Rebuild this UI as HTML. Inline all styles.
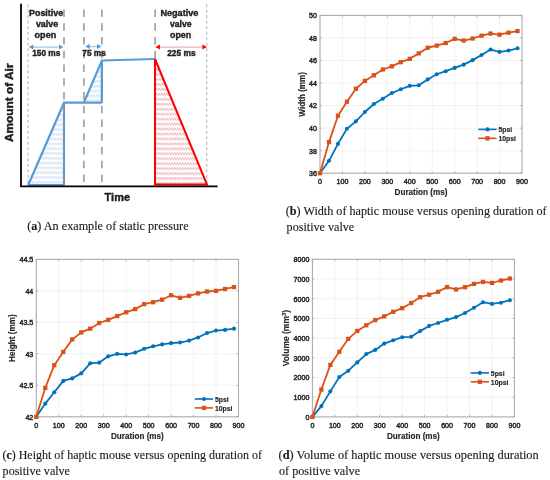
<!DOCTYPE html>
<html><head><meta charset="utf-8"><title>Figure</title><style>
html,body{margin:0;padding:0;background:#fff;width:550px;height:480px;overflow:hidden}
svg{display:block;will-change:transform;filter:blur(0.35px)}
text{font-family:"Liberation Sans",sans-serif}
.tick text{font-size:8.1px;fill:#262626;stroke:#262626;stroke-width:0.5px}
.albl{font-size:8.5px;font-weight:bold;fill:#262626;stroke:#262626;stroke-width:0.15px}
.leg{font-size:6.9px;font-weight:bold;fill:#262626;stroke:#262626;stroke-width:0.15px}
.dia, .dia text{font-weight:bold;fill:#1e1e1e;stroke:#1e1e1e;stroke-width:0.4px}
.cap text{font-family:"Liberation Serif",serif;font-size:11.5px;fill:#1a1a1a;stroke:#1a1a1a;stroke-width:0.12px}
</style></head><body>
<svg width="550" height="480" viewBox="0 0 550 480">
<defs>
<pattern id="hb" width="2.6" height="4.8" patternUnits="userSpaceOnUse" y="2.3"><path d="M0 2.4L0.65 1.4L1.3 2.4L1.95 3.4L2.6 2.4" fill="none" stroke="#9dc1e5" stroke-width="0.75"/></pattern>
<pattern id="hr" width="2.6" height="4.95" patternUnits="userSpaceOnUse" y="2.9"><path d="M0 2.4L0.65 1.4L1.3 2.4L1.95 3.4L2.6 2.4" fill="none" stroke="#dc6a6a" stroke-width="0.75"/></pattern>
</defs>
<path d="M28 4.2V185M206.7 4.2V185" stroke="#c2c2c2" stroke-width="1.3" stroke-dasharray="3 2.5"/>
<path d="M28.1 185.2L64 102.7V185.2Z" fill="url(#hb)"/>
<path d="M83.8 102.7L101.9 60.5V102.7Z" fill="url(#hb)"/>
<path d="M155 59L207 184.6H155Z" fill="url(#hr)"/>
<path d="M28.1 185.2L64 102.7H101.9M83.8 102.7L101.9 60.5L155 59M28.1 185.2H64M64 102.7V185.2M101.9 60.5V102.7" fill="none" stroke="#5b9bd5" stroke-width="2.2" stroke-linejoin="miter"/>
<path d="M64 9.4V185M83.9 9.4V185M101.9 9.4V185M155.1 9.4V60" stroke="#959595" stroke-width="1.5" stroke-dasharray="7.5 6.25"/>
<path d="M101.9 60.5V102.7" stroke="#5b9bd5" stroke-width="2"/>
<path d="M155 59L207 184.6H155Z" fill="none" stroke="#ff0000" stroke-width="2" stroke-linejoin="miter"/>
<path d="M21 3.8V187.1M20.1 186.3H217.6" stroke="#000" stroke-width="1.8" fill="none"/>
<path d="M31.8 47.1H60.6" stroke="#a9cbe9" stroke-width="1.4"/><path d="M28.8 47.1l4.6 -2.5v5Z M63.6 47.1l-4.6 -2.5v5Z" fill="#5b9bd5"/>
<path d="M88.2 46.6H98.6" stroke="#a9cbe9" stroke-width="1.4"/><path d="M85.2 46.6l4.6 -2.5v5Z M101.6 46.6l-4.6 -2.5v5Z" fill="#5b9bd5"/>
<path d="M158.3 47.1H204" stroke="#f2b0b0" stroke-width="1.4"/><path d="M155.3 47.1l4.6 -2.5v5Z M207 47.1l-4.6 -2.5v5Z" fill="#ff0000"/>
<g class="dia"><text x="29" y="16.2" textLength="34.2" lengthAdjust="spacingAndGlyphs" style="font-size:9px">Positive</text><text x="35.9" y="27.3" textLength="22.3" lengthAdjust="spacingAndGlyphs" style="font-size:9px">valve</text><text x="34.6" y="37.8" textLength="21.6" lengthAdjust="spacingAndGlyphs" style="font-size:9px">open</text><text x="32.2" y="55.5" textLength="28.2" lengthAdjust="spacingAndGlyphs" style="font-size:8.6px">150 ms</text><text x="82.3" y="55.8" textLength="23.6" lengthAdjust="spacingAndGlyphs" style="font-size:8.6px">75 ms</text><text x="160.5" y="16" textLength="37.8" lengthAdjust="spacingAndGlyphs" style="font-size:9px">Negative</text><text x="170" y="27" textLength="21.5" lengthAdjust="spacingAndGlyphs" style="font-size:9px">valve</text><text x="170" y="37.8" textLength="21.2" lengthAdjust="spacingAndGlyphs" style="font-size:9px">open</text><text x="167.2" y="55.5" textLength="28.4" lengthAdjust="spacingAndGlyphs" style="font-size:8.6px">225 ms</text><text x="104.6" y="200.8" textLength="25.4" lengthAdjust="spacingAndGlyphs" style="font-size:11.2px">Time</text></g>
<text class="dia" transform="translate(13.2 142) rotate(-90)" textLength="78.5" lengthAdjust="spacingAndGlyphs" style="font-size:10.6px">Amount of Air</text>
<path d="M342.44 15.4V173.2M364.89 15.4V173.2M387.33 15.4V173.2M409.78 15.4V173.2M432.22 15.4V173.2M454.67 15.4V173.2M477.11 15.4V173.2M499.56 15.4V173.2M320 150.66H522M320 128.11H522M320 105.57H522M320 83.03H522M320 60.49H522M320 37.94H522" stroke="#efefef" stroke-width="0.8" fill="none"/>
<rect x="320" y="15.4" width="202" height="157.8" fill="none" stroke="#ababab" stroke-width="1.1"/>
<path d="M320 173.2v-2M320 15.4v2M342.44 173.2v-2M342.44 15.4v2M364.89 173.2v-2M364.89 15.4v2M387.33 173.2v-2M387.33 15.4v2M409.78 173.2v-2M409.78 15.4v2M432.22 173.2v-2M432.22 15.4v2M454.67 173.2v-2M454.67 15.4v2M477.11 173.2v-2M477.11 15.4v2M499.56 173.2v-2M499.56 15.4v2M522 173.2v-2M522 15.4v2M320 173.2h2M522 173.2h-2M320 150.66h2M522 150.66h-2M320 128.11h2M522 128.11h-2M320 105.57h2M522 105.57h-2M320 83.03h2M522 83.03h-2M320 60.49h2M522 60.49h-2M320 37.94h2M522 37.94h-2M320 15.4h2M522 15.4h-2" stroke="#ababab" stroke-width="0.8" fill="none"/>
<g class="tick"><text transform="translate(320 184.4) scale(0.88 1)" text-anchor="middle">0</text><text transform="translate(342.44 184.4) scale(0.88 1)" text-anchor="middle">100</text><text transform="translate(364.89 184.4) scale(0.88 1)" text-anchor="middle">200</text><text transform="translate(387.33 184.4) scale(0.88 1)" text-anchor="middle">300</text><text transform="translate(409.78 184.4) scale(0.88 1)" text-anchor="middle">400</text><text transform="translate(432.22 184.4) scale(0.88 1)" text-anchor="middle">500</text><text transform="translate(454.67 184.4) scale(0.88 1)" text-anchor="middle">600</text><text transform="translate(477.11 184.4) scale(0.88 1)" text-anchor="middle">700</text><text transform="translate(499.56 184.4) scale(0.88 1)" text-anchor="middle">800</text><text transform="translate(522 184.4) scale(0.88 1)" text-anchor="middle">900</text><text transform="translate(317 176.1) scale(0.88 1)" text-anchor="end">36</text><text transform="translate(317 153.56) scale(0.88 1)" text-anchor="end">38</text><text transform="translate(317 131.01) scale(0.88 1)" text-anchor="end">40</text><text transform="translate(317 108.47) scale(0.88 1)" text-anchor="end">42</text><text transform="translate(317 85.93) scale(0.88 1)" text-anchor="end">44</text><text transform="translate(317 63.39) scale(0.88 1)" text-anchor="end">46</text><text transform="translate(317 40.84) scale(0.88 1)" text-anchor="end">48</text><text transform="translate(317 18.3) scale(0.88 1)" text-anchor="end">50</text></g>
<text class="albl" x="394.6" y="195" textLength="52.8" lengthAdjust="spacingAndGlyphs">Duration (ms)</text>
<text class="albl" transform="translate(304.6 116.7) rotate(-90)" textLength="44.8" lengthAdjust="spacingAndGlyphs">Width (mm)</text>
<polyline points="320,173.2 328.98,160.8 337.96,143.89 346.93,128.68 355.91,121.35 364.89,112 373.87,103.99 382.84,98.81 391.82,93.06 400.8,89.23 409.78,85.85 418.76,85.28 427.73,79.42 436.71,74.24 445.69,71.19 454.67,67.92 463.64,64.66 472.62,60.15 481.6,54.96 490.58,49.55 499.56,51.92 508.53,50.57 517.51,48.31" fill="none" stroke="#0072BD" stroke-width="1.8" stroke-linejoin="round"/>
<g fill="#0072BD"><circle cx="320" cy="173.2" r="2.05"/><circle cx="328.98" cy="160.8" r="2.05"/><circle cx="337.96" cy="143.89" r="2.05"/><circle cx="346.93" cy="128.68" r="2.05"/><circle cx="355.91" cy="121.35" r="2.05"/><circle cx="364.89" cy="112" r="2.05"/><circle cx="373.87" cy="103.99" r="2.05"/><circle cx="382.84" cy="98.81" r="2.05"/><circle cx="391.82" cy="93.06" r="2.05"/><circle cx="400.8" cy="89.23" r="2.05"/><circle cx="409.78" cy="85.85" r="2.05"/><circle cx="418.76" cy="85.28" r="2.05"/><circle cx="427.73" cy="79.42" r="2.05"/><circle cx="436.71" cy="74.24" r="2.05"/><circle cx="445.69" cy="71.19" r="2.05"/><circle cx="454.67" cy="67.92" r="2.05"/><circle cx="463.64" cy="64.66" r="2.05"/><circle cx="472.62" cy="60.15" r="2.05"/><circle cx="481.6" cy="54.96" r="2.05"/><circle cx="490.58" cy="49.55" r="2.05"/><circle cx="499.56" cy="51.92" r="2.05"/><circle cx="508.53" cy="50.57" r="2.05"/><circle cx="517.51" cy="48.31" r="2.05"/></g>
<polyline points="320,173.2 328.98,142.09 337.96,115.72 346.93,101.74 355.91,88.78 364.89,80.89 373.87,75.25 382.84,69.5 391.82,66.35 400.8,62.18 409.78,58.8 418.76,53.38 427.73,47.75 436.71,45.61 445.69,43.02 454.67,38.84 463.64,40.54 472.62,38.51 481.6,35.69 490.58,33.55 499.56,34.67 508.53,32.65 517.51,31.07" fill="none" stroke="#D95319" stroke-width="1.8" stroke-linejoin="round"/>
<g fill="#D95319"><rect x="317.85" y="171.05" width="4.3" height="4.3"/><rect x="326.83" y="139.94" width="4.3" height="4.3"/><rect x="335.81" y="113.57" width="4.3" height="4.3"/><rect x="344.78" y="99.59" width="4.3" height="4.3"/><rect x="353.76" y="86.63" width="4.3" height="4.3"/><rect x="362.74" y="78.74" width="4.3" height="4.3"/><rect x="371.72" y="73.1" width="4.3" height="4.3"/><rect x="380.69" y="67.35" width="4.3" height="4.3"/><rect x="389.67" y="64.2" width="4.3" height="4.3"/><rect x="398.65" y="60.03" width="4.3" height="4.3"/><rect x="407.63" y="56.65" width="4.3" height="4.3"/><rect x="416.61" y="51.23" width="4.3" height="4.3"/><rect x="425.58" y="45.6" width="4.3" height="4.3"/><rect x="434.56" y="43.46" width="4.3" height="4.3"/><rect x="443.54" y="40.87" width="4.3" height="4.3"/><rect x="452.52" y="36.69" width="4.3" height="4.3"/><rect x="461.49" y="38.39" width="4.3" height="4.3"/><rect x="470.47" y="36.36" width="4.3" height="4.3"/><rect x="479.45" y="33.54" width="4.3" height="4.3"/><rect x="488.43" y="31.4" width="4.3" height="4.3"/><rect x="497.41" y="32.52" width="4.3" height="4.3"/><rect x="506.38" y="30.5" width="4.3" height="4.3"/><rect x="515.36" y="28.92" width="4.3" height="4.3"/></g>
<path d="M478.3 129.4H496.6" stroke="#0072BD" stroke-width="1.6"/>
<circle cx="487.45" cy="129.4" r="2.05" fill="#0072BD"/>
<path d="M478.3 138.3H496.6" stroke="#D95319" stroke-width="1.6"/>
<rect x="485.3" y="136.15" width="4.3" height="4.3" fill="#D95319"/>
<text class="leg" x="498.4" y="132.2">5psi</text>
<text class="leg" x="498.4" y="141.1">10psi</text>
<path d="M58.77 259.4V416.8M81.23 259.4V416.8M103.7 259.4V416.8M126.17 259.4V416.8M148.63 259.4V416.8M171.1 259.4V416.8M193.57 259.4V416.8M216.03 259.4V416.8M36.3 385.32H238.5M36.3 353.84H238.5M36.3 322.36H238.5M36.3 290.88H238.5" stroke="#efefef" stroke-width="0.8" fill="none"/>
<rect x="36.3" y="259.4" width="202.2" height="157.4" fill="none" stroke="#ababab" stroke-width="1.1"/>
<path d="M36.3 416.8v-2M36.3 259.4v2M58.77 416.8v-2M58.77 259.4v2M81.23 416.8v-2M81.23 259.4v2M103.7 416.8v-2M103.7 259.4v2M126.17 416.8v-2M126.17 259.4v2M148.63 416.8v-2M148.63 259.4v2M171.1 416.8v-2M171.1 259.4v2M193.57 416.8v-2M193.57 259.4v2M216.03 416.8v-2M216.03 259.4v2M238.5 416.8v-2M238.5 259.4v2M36.3 416.8h2M238.5 416.8h-2M36.3 385.32h2M238.5 385.32h-2M36.3 353.84h2M238.5 353.84h-2M36.3 322.36h2M238.5 322.36h-2M36.3 290.88h2M238.5 290.88h-2M36.3 259.4h2M238.5 259.4h-2" stroke="#ababab" stroke-width="0.8" fill="none"/>
<g class="tick"><text transform="translate(36.3 428) scale(0.88 1)" text-anchor="middle">0</text><text transform="translate(58.77 428) scale(0.88 1)" text-anchor="middle">100</text><text transform="translate(81.23 428) scale(0.88 1)" text-anchor="middle">200</text><text transform="translate(103.7 428) scale(0.88 1)" text-anchor="middle">300</text><text transform="translate(126.17 428) scale(0.88 1)" text-anchor="middle">400</text><text transform="translate(148.63 428) scale(0.88 1)" text-anchor="middle">500</text><text transform="translate(171.1 428) scale(0.88 1)" text-anchor="middle">600</text><text transform="translate(193.57 428) scale(0.88 1)" text-anchor="middle">700</text><text transform="translate(216.03 428) scale(0.88 1)" text-anchor="middle">800</text><text transform="translate(238.5 428) scale(0.88 1)" text-anchor="middle">900</text><text transform="translate(33.3 419.7) scale(0.88 1)" text-anchor="end">42</text><text transform="translate(33.3 388.22) scale(0.88 1)" text-anchor="end">42.5</text><text transform="translate(33.3 356.74) scale(0.88 1)" text-anchor="end">43</text><text transform="translate(33.3 325.26) scale(0.88 1)" text-anchor="end">43.5</text><text transform="translate(33.3 293.78) scale(0.88 1)" text-anchor="end">44</text><text transform="translate(33.3 262.3) scale(0.88 1)" text-anchor="end">44.5</text></g>
<text class="albl" x="111" y="438.6" textLength="52.8" lengthAdjust="spacingAndGlyphs">Duration (ms)</text>
<text class="albl" transform="translate(15.4 362) rotate(-90)" textLength="47.8" lengthAdjust="spacingAndGlyphs">Height (mm)</text>
<polyline points="36.3,416.8 45.29,403.58 54.27,392.25 63.26,380.91 72.25,378.39 81.23,373.36 90.22,363.28 99.21,362.65 108.19,356.36 117.18,353.84 126.17,354.47 135.15,352.58 144.14,348.8 153.13,346.28 162.11,344.4 171.1,343.14 180.09,342.51 189.07,340.62 198.06,337.47 207.05,333.06 216.03,330.54 225.02,329.92 234.01,328.66" fill="none" stroke="#0072BD" stroke-width="1.8" stroke-linejoin="round"/>
<g fill="#0072BD"><circle cx="36.3" cy="416.8" r="2.05"/><circle cx="45.29" cy="403.58" r="2.05"/><circle cx="54.27" cy="392.25" r="2.05"/><circle cx="63.26" cy="380.91" r="2.05"/><circle cx="72.25" cy="378.39" r="2.05"/><circle cx="81.23" cy="373.36" r="2.05"/><circle cx="90.22" cy="363.28" r="2.05"/><circle cx="99.21" cy="362.65" r="2.05"/><circle cx="108.19" cy="356.36" r="2.05"/><circle cx="117.18" cy="353.84" r="2.05"/><circle cx="126.17" cy="354.47" r="2.05"/><circle cx="135.15" cy="352.58" r="2.05"/><circle cx="144.14" cy="348.8" r="2.05"/><circle cx="153.13" cy="346.28" r="2.05"/><circle cx="162.11" cy="344.4" r="2.05"/><circle cx="171.1" cy="343.14" r="2.05"/><circle cx="180.09" cy="342.51" r="2.05"/><circle cx="189.07" cy="340.62" r="2.05"/><circle cx="198.06" cy="337.47" r="2.05"/><circle cx="207.05" cy="333.06" r="2.05"/><circle cx="216.03" cy="330.54" r="2.05"/><circle cx="225.02" cy="329.92" r="2.05"/><circle cx="234.01" cy="328.66" r="2.05"/></g>
<polyline points="36.3,416.8 45.29,387.84 54.27,365.17 63.26,351.95 72.25,339.36 81.23,332.43 90.22,328.66 99.21,322.99 108.19,319.84 117.18,316.06 126.17,312.29 135.15,309.14 144.14,304.1 153.13,302.21 162.11,299.69 171.1,295.29 180.09,297.81 189.07,295.92 198.06,293.4 207.05,291.51 216.03,290.88 225.02,288.99 234.01,287.1" fill="none" stroke="#D95319" stroke-width="1.8" stroke-linejoin="round"/>
<g fill="#D95319"><rect x="34.15" y="414.65" width="4.3" height="4.3"/><rect x="43.14" y="385.69" width="4.3" height="4.3"/><rect x="52.12" y="363.02" width="4.3" height="4.3"/><rect x="61.11" y="349.8" width="4.3" height="4.3"/><rect x="70.1" y="337.21" width="4.3" height="4.3"/><rect x="79.08" y="330.28" width="4.3" height="4.3"/><rect x="88.07" y="326.51" width="4.3" height="4.3"/><rect x="97.06" y="320.84" width="4.3" height="4.3"/><rect x="106.04" y="317.69" width="4.3" height="4.3"/><rect x="115.03" y="313.91" width="4.3" height="4.3"/><rect x="124.02" y="310.14" width="4.3" height="4.3"/><rect x="133" y="306.99" width="4.3" height="4.3"/><rect x="141.99" y="301.95" width="4.3" height="4.3"/><rect x="150.98" y="300.06" width="4.3" height="4.3"/><rect x="159.96" y="297.54" width="4.3" height="4.3"/><rect x="168.95" y="293.14" width="4.3" height="4.3"/><rect x="177.94" y="295.66" width="4.3" height="4.3"/><rect x="186.92" y="293.77" width="4.3" height="4.3"/><rect x="195.91" y="291.25" width="4.3" height="4.3"/><rect x="204.9" y="289.36" width="4.3" height="4.3"/><rect x="213.88" y="288.73" width="4.3" height="4.3"/><rect x="222.87" y="286.84" width="4.3" height="4.3"/><rect x="231.86" y="284.95" width="4.3" height="4.3"/></g>
<path d="M194.8 399H213.1" stroke="#0072BD" stroke-width="1.6"/>
<circle cx="203.95" cy="399" r="2.05" fill="#0072BD"/>
<path d="M194.8 407.9H213.1" stroke="#D95319" stroke-width="1.6"/>
<rect x="201.8" y="405.75" width="4.3" height="4.3" fill="#D95319"/>
<text class="leg" x="214.9" y="401.8">5psi</text>
<text class="leg" x="214.9" y="410.7">10psi</text>
<path d="M334.84 259.3V416.9M357.29 259.3V416.9M379.73 259.3V416.9M402.18 259.3V416.9M424.62 259.3V416.9M447.07 259.3V416.9M469.51 259.3V416.9M491.96 259.3V416.9M312.4 397.2H514.4M312.4 377.5H514.4M312.4 357.8H514.4M312.4 338.1H514.4M312.4 318.4H514.4M312.4 298.7H514.4M312.4 279H514.4" stroke="#efefef" stroke-width="0.8" fill="none"/>
<rect x="312.4" y="259.3" width="202" height="157.6" fill="none" stroke="#ababab" stroke-width="1.1"/>
<path d="M312.4 416.9v-2M312.4 259.3v2M334.84 416.9v-2M334.84 259.3v2M357.29 416.9v-2M357.29 259.3v2M379.73 416.9v-2M379.73 259.3v2M402.18 416.9v-2M402.18 259.3v2M424.62 416.9v-2M424.62 259.3v2M447.07 416.9v-2M447.07 259.3v2M469.51 416.9v-2M469.51 259.3v2M491.96 416.9v-2M491.96 259.3v2M514.4 416.9v-2M514.4 259.3v2M312.4 416.9h2M514.4 416.9h-2M312.4 397.2h2M514.4 397.2h-2M312.4 377.5h2M514.4 377.5h-2M312.4 357.8h2M514.4 357.8h-2M312.4 338.1h2M514.4 338.1h-2M312.4 318.4h2M514.4 318.4h-2M312.4 298.7h2M514.4 298.7h-2M312.4 279h2M514.4 279h-2M312.4 259.3h2M514.4 259.3h-2" stroke="#ababab" stroke-width="0.8" fill="none"/>
<g class="tick"><text transform="translate(312.4 428.1) scale(0.88 1)" text-anchor="middle">0</text><text transform="translate(334.84 428.1) scale(0.88 1)" text-anchor="middle">100</text><text transform="translate(357.29 428.1) scale(0.88 1)" text-anchor="middle">200</text><text transform="translate(379.73 428.1) scale(0.88 1)" text-anchor="middle">300</text><text transform="translate(402.18 428.1) scale(0.88 1)" text-anchor="middle">400</text><text transform="translate(424.62 428.1) scale(0.88 1)" text-anchor="middle">500</text><text transform="translate(447.07 428.1) scale(0.88 1)" text-anchor="middle">600</text><text transform="translate(469.51 428.1) scale(0.88 1)" text-anchor="middle">700</text><text transform="translate(491.96 428.1) scale(0.88 1)" text-anchor="middle">800</text><text transform="translate(514.4 428.1) scale(0.88 1)" text-anchor="middle">900</text><text transform="translate(309.4 419.8) scale(0.88 1)" text-anchor="end">0</text><text transform="translate(309.4 400.1) scale(0.88 1)" text-anchor="end">1000</text><text transform="translate(309.4 380.4) scale(0.88 1)" text-anchor="end">2000</text><text transform="translate(309.4 360.7) scale(0.88 1)" text-anchor="end">3000</text><text transform="translate(309.4 341) scale(0.88 1)" text-anchor="end">4000</text><text transform="translate(309.4 321.3) scale(0.88 1)" text-anchor="end">5000</text><text transform="translate(309.4 301.6) scale(0.88 1)" text-anchor="end">6000</text><text transform="translate(309.4 281.9) scale(0.88 1)" text-anchor="end">7000</text><text transform="translate(309.4 262.2) scale(0.88 1)" text-anchor="end">8000</text></g>
<text class="albl" x="387" y="438.7" textLength="52.8" lengthAdjust="spacingAndGlyphs">Duration (ms)</text>
<text class="albl" transform="translate(289.4 366.35) rotate(-90)" textLength="56.5" lengthAdjust="spacingAndGlyphs">Volume (mm<tspan dy="-3.6" style="font-size:6px">3</tspan><tspan dy="3.6">)</tspan></text>
<polyline points="312.4,416.9 321.38,406.1 330.36,391.35 339.33,377.01 348.31,370.7 357.29,362.41 366.27,354.1 375.24,349.9 384.22,343.6 393.2,340.31 402.18,337.19 411.16,336.8 420.13,331.11 429.11,325.91 438.09,323.01 447.07,319.8 456.04,317.1 465.02,313 474,307.7 482.98,302.21 491.96,303.9 500.93,302.7 509.91,300.2" fill="none" stroke="#0072BD" stroke-width="1.8" stroke-linejoin="round"/>
<g fill="#0072BD"><circle cx="312.4" cy="416.9" r="2.05"/><circle cx="321.38" cy="406.1" r="2.05"/><circle cx="330.36" cy="391.35" r="2.05"/><circle cx="339.33" cy="377.01" r="2.05"/><circle cx="348.31" cy="370.7" r="2.05"/><circle cx="357.29" cy="362.41" r="2.05"/><circle cx="366.27" cy="354.1" r="2.05"/><circle cx="375.24" cy="349.9" r="2.05"/><circle cx="384.22" cy="343.6" r="2.05"/><circle cx="393.2" cy="340.31" r="2.05"/><circle cx="402.18" cy="337.19" r="2.05"/><circle cx="411.16" cy="336.8" r="2.05"/><circle cx="420.13" cy="331.11" r="2.05"/><circle cx="429.11" cy="325.91" r="2.05"/><circle cx="438.09" cy="323.01" r="2.05"/><circle cx="447.07" cy="319.8" r="2.05"/><circle cx="456.04" cy="317.1" r="2.05"/><circle cx="465.02" cy="313" r="2.05"/><circle cx="474" cy="307.7" r="2.05"/><circle cx="482.98" cy="302.21" r="2.05"/><circle cx="491.96" cy="303.9" r="2.05"/><circle cx="500.93" cy="302.7" r="2.05"/><circle cx="509.91" cy="300.2" r="2.05"/></g>
<polyline points="312.4,416.9 321.38,389.5 330.36,364.89 339.33,351.79 348.31,338.85 357.29,330.91 366.27,325.29 375.24,320.09 384.22,316.35 393.2,311.8 402.18,308.2 411.16,302.99 420.13,297.2 429.11,294.7 438.09,291.81 447.07,287.1 456.04,289.4 465.02,287.2 474,283.91 482.98,281.9 491.96,282.9 500.93,280.5 509.91,278.51" fill="none" stroke="#D95319" stroke-width="1.8" stroke-linejoin="round"/>
<g fill="#D95319"><rect x="310.25" y="414.75" width="4.3" height="4.3"/><rect x="319.23" y="387.35" width="4.3" height="4.3"/><rect x="328.21" y="362.74" width="4.3" height="4.3"/><rect x="337.18" y="349.64" width="4.3" height="4.3"/><rect x="346.16" y="336.7" width="4.3" height="4.3"/><rect x="355.14" y="328.76" width="4.3" height="4.3"/><rect x="364.12" y="323.14" width="4.3" height="4.3"/><rect x="373.09" y="317.94" width="4.3" height="4.3"/><rect x="382.07" y="314.2" width="4.3" height="4.3"/><rect x="391.05" y="309.65" width="4.3" height="4.3"/><rect x="400.03" y="306.05" width="4.3" height="4.3"/><rect x="409.01" y="300.84" width="4.3" height="4.3"/><rect x="417.98" y="295.05" width="4.3" height="4.3"/><rect x="426.96" y="292.55" width="4.3" height="4.3"/><rect x="435.94" y="289.66" width="4.3" height="4.3"/><rect x="444.92" y="284.95" width="4.3" height="4.3"/><rect x="453.89" y="287.25" width="4.3" height="4.3"/><rect x="462.87" y="285.05" width="4.3" height="4.3"/><rect x="471.85" y="281.76" width="4.3" height="4.3"/><rect x="480.83" y="279.75" width="4.3" height="4.3"/><rect x="489.81" y="280.75" width="4.3" height="4.3"/><rect x="498.78" y="278.35" width="4.3" height="4.3"/><rect x="507.76" y="276.36" width="4.3" height="4.3"/></g>
<path d="M470.7 372.9H489" stroke="#0072BD" stroke-width="1.6"/>
<circle cx="479.85" cy="372.9" r="2.05" fill="#0072BD"/>
<path d="M470.7 381.8H489" stroke="#D95319" stroke-width="1.6"/>
<rect x="477.7" y="379.65" width="4.3" height="4.3" fill="#D95319"/>
<text class="leg" x="490.8" y="375.7">5psi</text>
<text class="leg" x="490.8" y="384.6">10psi</text>
<g class="cap"><text x="27.2" y="229.6" textLength="161.4" lengthAdjust="spacingAndGlyphs">(<tspan font-weight="bold">a</tspan>) An example of static pressure</text>
<text x="285.8" y="215" textLength="260.8" lengthAdjust="spacingAndGlyphs">(<tspan font-weight="bold">b</tspan>) Width of haptic mouse versus opening duration of</text>
<text x="286.6" y="230.6" textLength="67.6" lengthAdjust="spacingAndGlyphs">positive valve</text>
<text x="2.4" y="459" textLength="259.6" lengthAdjust="spacingAndGlyphs">(<tspan font-weight="bold">c</tspan>) Height of haptic mouse versus opening duration of</text>
<text x="2.6" y="474.7" textLength="67.4" lengthAdjust="spacingAndGlyphs">positive valve</text>
<text x="278.6" y="459" textLength="260.1" lengthAdjust="spacingAndGlyphs">(<tspan font-weight="bold">d</tspan>) Volume of haptic mouse versus opening duration</text>
<text x="279" y="474.7" textLength="81.1" lengthAdjust="spacingAndGlyphs">of positive valve</text></g>
</svg>
</body></html>
